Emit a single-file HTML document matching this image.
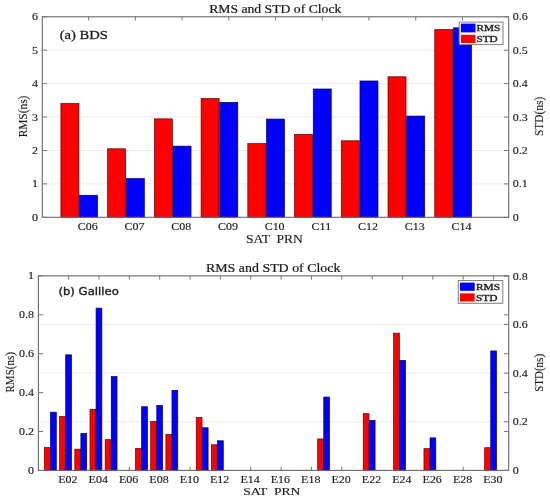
<!DOCTYPE html>
<html><head><meta charset="utf-8"><title>RMS and STD of Clock</title>
<style>
html,body{margin:0;padding:0;background:#fff;}
body{width:550px;height:501px;overflow:hidden;}
svg{display:block;}
text{font-family:"Liberation Serif",serif;fill:#1a1a1a;stroke:#1a1a1a;stroke-width:0.25px;}
.tk{font-size:10px;stroke-width:0.14px;}
.ti{font-size:11.5px;stroke-width:0.2px;}
.ti2{font-size:11.9px;stroke-width:0.2px;}
.xl{font-size:11.6px;stroke-width:0.12px;}
.xl2{font-size:11px;stroke-width:0.12px;}
.yl{font-size:11.4px;stroke-width:0.12px;}
.yl2{font-size:11px;stroke-width:0.12px;}
.pa{font-size:12.5px;}
.pb{font-size:10.8px;font-family:"DejaVu Sans","Liberation Sans",sans-serif;stroke-width:0.35px;}
.lg{font-size:9.2px;stroke-width:0.35px;}
</style></head><body>
<svg width="550" height="501" viewBox="0 0 550 501">
<rect width="550" height="501" fill="#fff"/>
<line x1="42.30" y1="183.88" x2="508.70" y2="183.88" stroke="#ebebeb" stroke-width="1"/>
<line x1="42.30" y1="150.47" x2="508.70" y2="150.47" stroke="#ebebeb" stroke-width="1"/>
<line x1="42.30" y1="117.05" x2="508.70" y2="117.05" stroke="#ebebeb" stroke-width="1"/>
<line x1="42.30" y1="83.63" x2="508.70" y2="83.63" stroke="#ebebeb" stroke-width="1"/>
<line x1="42.30" y1="50.22" x2="508.70" y2="50.22" stroke="#ebebeb" stroke-width="1"/>
<line x1="88.60" y1="217.30" x2="88.60" y2="213.60" stroke="#787878" stroke-width="1"/>
<line x1="135.33" y1="217.30" x2="135.33" y2="213.60" stroke="#787878" stroke-width="1"/>
<line x1="182.06" y1="217.30" x2="182.06" y2="213.60" stroke="#787878" stroke-width="1"/>
<line x1="228.79" y1="217.30" x2="228.79" y2="213.60" stroke="#787878" stroke-width="1"/>
<line x1="275.52" y1="217.30" x2="275.52" y2="213.60" stroke="#787878" stroke-width="1"/>
<line x1="322.25" y1="217.30" x2="322.25" y2="213.60" stroke="#787878" stroke-width="1"/>
<line x1="368.98" y1="217.30" x2="368.98" y2="213.60" stroke="#787878" stroke-width="1"/>
<line x1="415.71" y1="217.30" x2="415.71" y2="213.60" stroke="#787878" stroke-width="1"/>
<line x1="462.44" y1="217.30" x2="462.44" y2="213.60" stroke="#787878" stroke-width="1"/>
<rect x="60.91" y="103.53" width="17.99" height="113.77" fill="#ff0000" stroke="#5a0000" stroke-width="0.7"/>
<rect x="79.60" y="195.26" width="17.99" height="22.04" fill="#0000ff" stroke="#00005a" stroke-width="0.7"/>
<rect x="107.64" y="148.81" width="17.99" height="68.49" fill="#ff0000" stroke="#5a0000" stroke-width="0.7"/>
<rect x="126.33" y="178.55" width="17.99" height="38.75" fill="#0000ff" stroke="#00005a" stroke-width="0.7"/>
<rect x="154.37" y="118.87" width="17.99" height="98.43" fill="#ff0000" stroke="#5a0000" stroke-width="0.7"/>
<rect x="173.06" y="146.14" width="17.99" height="71.16" fill="#0000ff" stroke="#00005a" stroke-width="0.7"/>
<rect x="201.10" y="98.52" width="17.99" height="118.78" fill="#ff0000" stroke="#5a0000" stroke-width="0.7"/>
<rect x="219.79" y="102.36" width="17.99" height="114.94" fill="#0000ff" stroke="#00005a" stroke-width="0.7"/>
<rect x="247.83" y="143.63" width="17.99" height="73.67" fill="#ff0000" stroke="#5a0000" stroke-width="0.7"/>
<rect x="266.52" y="119.07" width="17.99" height="98.23" fill="#0000ff" stroke="#00005a" stroke-width="0.7"/>
<rect x="294.56" y="134.44" width="17.99" height="82.86" fill="#ff0000" stroke="#5a0000" stroke-width="0.7"/>
<rect x="313.25" y="89.00" width="17.99" height="128.30" fill="#0000ff" stroke="#00005a" stroke-width="0.7"/>
<rect x="341.29" y="140.79" width="17.99" height="76.51" fill="#ff0000" stroke="#5a0000" stroke-width="0.7"/>
<rect x="359.98" y="80.98" width="17.99" height="136.32" fill="#0000ff" stroke="#00005a" stroke-width="0.7"/>
<rect x="388.02" y="76.80" width="17.99" height="140.50" fill="#ff0000" stroke="#5a0000" stroke-width="0.7"/>
<rect x="406.71" y="116.06" width="17.99" height="101.24" fill="#0000ff" stroke="#00005a" stroke-width="0.7"/>
<rect x="434.75" y="29.51" width="17.99" height="187.79" fill="#ff0000" stroke="#5a0000" stroke-width="0.7"/>
<rect x="453.44" y="27.84" width="17.99" height="189.46" fill="#0000ff" stroke="#00005a" stroke-width="0.7"/>
<rect x="42.3" y="16.8" width="466.40" height="200.50" fill="none" stroke="#686868" stroke-width="1.1"/>
<line x1="88.60" y1="16.80" x2="88.60" y2="20.50" stroke="#787878" stroke-width="1"/>
<text transform="translate(87.70,229.60) scale(1.2,1)" class="tk" text-anchor="middle">C06</text>
<line x1="135.33" y1="16.80" x2="135.33" y2="20.50" stroke="#787878" stroke-width="1"/>
<text transform="translate(134.43,229.60) scale(1.2,1)" class="tk" text-anchor="middle">C07</text>
<line x1="182.06" y1="16.80" x2="182.06" y2="20.50" stroke="#787878" stroke-width="1"/>
<text transform="translate(181.16,229.60) scale(1.2,1)" class="tk" text-anchor="middle">C08</text>
<line x1="228.79" y1="16.80" x2="228.79" y2="20.50" stroke="#787878" stroke-width="1"/>
<text transform="translate(227.89,229.60) scale(1.2,1)" class="tk" text-anchor="middle">C09</text>
<line x1="275.52" y1="16.80" x2="275.52" y2="20.50" stroke="#787878" stroke-width="1"/>
<text transform="translate(274.62,229.60) scale(1.2,1)" class="tk" text-anchor="middle">C10</text>
<line x1="322.25" y1="16.80" x2="322.25" y2="20.50" stroke="#787878" stroke-width="1"/>
<text transform="translate(321.35,229.60) scale(1.2,1)" class="tk" text-anchor="middle">C11</text>
<line x1="368.98" y1="16.80" x2="368.98" y2="20.50" stroke="#787878" stroke-width="1"/>
<text transform="translate(368.08,229.60) scale(1.2,1)" class="tk" text-anchor="middle">C12</text>
<line x1="415.71" y1="16.80" x2="415.71" y2="20.50" stroke="#787878" stroke-width="1"/>
<text transform="translate(414.81,229.60) scale(1.2,1)" class="tk" text-anchor="middle">C13</text>
<line x1="462.44" y1="16.80" x2="462.44" y2="20.50" stroke="#787878" stroke-width="1"/>
<text transform="translate(461.54,229.60) scale(1.2,1)" class="tk" text-anchor="middle">C14</text>
<line x1="42.30" y1="217.30" x2="47.00" y2="217.30" stroke="#787878" stroke-width="1"/>
<line x1="508.70" y1="217.30" x2="504.00" y2="217.30" stroke="#787878" stroke-width="1"/>
<text transform="translate(38.00,220.90) scale(1.2,1)" class="tk" text-anchor="end">0</text>
<text transform="translate(512.70,220.90) scale(1.2,1)" class="tk">0</text>
<line x1="42.30" y1="183.88" x2="47.00" y2="183.88" stroke="#787878" stroke-width="1"/>
<line x1="508.70" y1="183.88" x2="504.00" y2="183.88" stroke="#787878" stroke-width="1"/>
<text transform="translate(38.00,187.48) scale(1.2,1)" class="tk" text-anchor="end">1</text>
<text transform="translate(512.70,187.48) scale(1.2,1)" class="tk">0.1</text>
<line x1="42.30" y1="150.47" x2="47.00" y2="150.47" stroke="#787878" stroke-width="1"/>
<line x1="508.70" y1="150.47" x2="504.00" y2="150.47" stroke="#787878" stroke-width="1"/>
<text transform="translate(38.00,154.07) scale(1.2,1)" class="tk" text-anchor="end">2</text>
<text transform="translate(512.70,154.07) scale(1.2,1)" class="tk">0.2</text>
<line x1="42.30" y1="117.05" x2="47.00" y2="117.05" stroke="#787878" stroke-width="1"/>
<line x1="508.70" y1="117.05" x2="504.00" y2="117.05" stroke="#787878" stroke-width="1"/>
<text transform="translate(38.00,120.65) scale(1.2,1)" class="tk" text-anchor="end">3</text>
<text transform="translate(512.70,120.65) scale(1.2,1)" class="tk">0.3</text>
<line x1="42.30" y1="83.63" x2="47.00" y2="83.63" stroke="#787878" stroke-width="1"/>
<line x1="508.70" y1="83.63" x2="504.00" y2="83.63" stroke="#787878" stroke-width="1"/>
<text transform="translate(38.00,87.23) scale(1.2,1)" class="tk" text-anchor="end">4</text>
<text transform="translate(512.70,87.23) scale(1.2,1)" class="tk">0.4</text>
<line x1="42.30" y1="50.22" x2="47.00" y2="50.22" stroke="#787878" stroke-width="1"/>
<line x1="508.70" y1="50.22" x2="504.00" y2="50.22" stroke="#787878" stroke-width="1"/>
<text transform="translate(38.00,53.82) scale(1.2,1)" class="tk" text-anchor="end">5</text>
<text transform="translate(512.70,53.82) scale(1.2,1)" class="tk">0.5</text>
<line x1="42.30" y1="16.80" x2="47.00" y2="16.80" stroke="#787878" stroke-width="1"/>
<line x1="508.70" y1="16.80" x2="504.00" y2="16.80" stroke="#787878" stroke-width="1"/>
<text transform="translate(38.00,20.40) scale(1.2,1)" class="tk" text-anchor="end">6</text>
<text transform="translate(512.70,20.40) scale(1.2,1)" class="tk">0.6</text>
<text transform="translate(275.20,12.60) scale(1.19,1)" class="ti" text-anchor="middle">RMS and STD of Clock</text>
<text transform="translate(274.40,243.20) scale(1.17,1)" class="xl" text-anchor="middle" xml:space="preserve">SAT  PRN</text>
<text transform="translate(26.50,116.50) scale(1.17,1) rotate(-90)" class="yl" text-anchor="middle">RMS(ns)</text>
<text transform="translate(543.30,116.40) scale(1.17,1) rotate(-90)" class="yl" text-anchor="middle">STD(ns)</text>
<text transform="translate(59.70,38.70) scale(1.17,1)" class="pa">(a) BDS</text>
<rect x="459.2" y="22.1" width="43.8" height="22.5" fill="#fcfcfc" stroke="#808080" stroke-width="1"/>
<rect x="460.9" y="23.6" width="14.6" height="8.8" fill="#0000ff"/>
<rect x="460.9" y="34.8" width="14.6" height="8.2" fill="#ff0000"/>
<text transform="translate(476.50,30.70) scale(1.22,1)" class="lg">RMS</text>
<text transform="translate(476.50,41.60) scale(1.22,1)" class="lg">STD</text>
<line x1="38.40" y1="421.77" x2="508.70" y2="421.77" stroke="#ebebeb" stroke-width="1"/>
<line x1="38.40" y1="373.15" x2="508.70" y2="373.15" stroke="#ebebeb" stroke-width="1"/>
<line x1="38.40" y1="324.52" x2="508.70" y2="324.52" stroke="#ebebeb" stroke-width="1"/>
<line x1="68.60" y1="470.40" x2="68.60" y2="466.70" stroke="#787878" stroke-width="1"/>
<line x1="98.96" y1="470.40" x2="98.96" y2="466.70" stroke="#787878" stroke-width="1"/>
<line x1="129.32" y1="470.40" x2="129.32" y2="466.70" stroke="#787878" stroke-width="1"/>
<line x1="159.68" y1="470.40" x2="159.68" y2="466.70" stroke="#787878" stroke-width="1"/>
<line x1="190.04" y1="470.40" x2="190.04" y2="466.70" stroke="#787878" stroke-width="1"/>
<line x1="220.40" y1="470.40" x2="220.40" y2="466.70" stroke="#787878" stroke-width="1"/>
<line x1="250.76" y1="470.40" x2="250.76" y2="466.70" stroke="#787878" stroke-width="1"/>
<line x1="281.12" y1="470.40" x2="281.12" y2="466.70" stroke="#787878" stroke-width="1"/>
<line x1="311.48" y1="470.40" x2="311.48" y2="466.70" stroke="#787878" stroke-width="1"/>
<line x1="341.84" y1="470.40" x2="341.84" y2="466.70" stroke="#787878" stroke-width="1"/>
<line x1="372.20" y1="470.40" x2="372.20" y2="466.70" stroke="#787878" stroke-width="1"/>
<line x1="402.56" y1="470.40" x2="402.56" y2="466.70" stroke="#787878" stroke-width="1"/>
<line x1="432.92" y1="470.40" x2="432.92" y2="466.70" stroke="#787878" stroke-width="1"/>
<line x1="463.28" y1="470.40" x2="463.28" y2="466.70" stroke="#787878" stroke-width="1"/>
<line x1="493.64" y1="470.40" x2="493.64" y2="466.70" stroke="#787878" stroke-width="1"/>
<rect x="44.46" y="447.45" width="5.77" height="22.95" fill="#ff0000" stroke="#5a0000" stroke-width="0.7"/>
<rect x="50.53" y="412.20" width="5.77" height="58.20" fill="#0000ff" stroke="#00005a" stroke-width="0.7"/>
<rect x="59.64" y="416.58" width="5.77" height="53.82" fill="#ff0000" stroke="#5a0000" stroke-width="0.7"/>
<rect x="65.71" y="354.82" width="5.77" height="115.58" fill="#0000ff" stroke="#00005a" stroke-width="0.7"/>
<rect x="74.82" y="449.15" width="5.77" height="21.25" fill="#ff0000" stroke="#5a0000" stroke-width="0.7"/>
<rect x="80.89" y="433.59" width="5.77" height="36.81" fill="#0000ff" stroke="#00005a" stroke-width="0.7"/>
<rect x="90.00" y="409.28" width="5.77" height="61.12" fill="#ff0000" stroke="#5a0000" stroke-width="0.7"/>
<rect x="96.07" y="308.14" width="5.77" height="162.26" fill="#0000ff" stroke="#00005a" stroke-width="0.7"/>
<rect x="105.18" y="439.67" width="5.77" height="30.73" fill="#ff0000" stroke="#5a0000" stroke-width="0.7"/>
<rect x="111.25" y="376.61" width="5.77" height="93.79" fill="#0000ff" stroke="#00005a" stroke-width="0.7"/>
<rect x="135.54" y="448.43" width="5.77" height="21.97" fill="#ff0000" stroke="#5a0000" stroke-width="0.7"/>
<rect x="141.61" y="406.75" width="5.77" height="63.65" fill="#0000ff" stroke="#00005a" stroke-width="0.7"/>
<rect x="150.72" y="421.44" width="5.77" height="48.96" fill="#ff0000" stroke="#5a0000" stroke-width="0.7"/>
<rect x="156.79" y="405.39" width="5.77" height="65.01" fill="#0000ff" stroke="#00005a" stroke-width="0.7"/>
<rect x="165.90" y="434.32" width="5.77" height="36.08" fill="#ff0000" stroke="#5a0000" stroke-width="0.7"/>
<rect x="171.97" y="390.42" width="5.77" height="79.98" fill="#0000ff" stroke="#00005a" stroke-width="0.7"/>
<rect x="196.26" y="417.55" width="5.77" height="52.85" fill="#ff0000" stroke="#5a0000" stroke-width="0.7"/>
<rect x="202.33" y="427.76" width="5.77" height="42.64" fill="#0000ff" stroke="#00005a" stroke-width="0.7"/>
<rect x="211.44" y="444.78" width="5.77" height="25.62" fill="#ff0000" stroke="#5a0000" stroke-width="0.7"/>
<rect x="217.51" y="440.79" width="5.77" height="29.61" fill="#0000ff" stroke="#00005a" stroke-width="0.7"/>
<rect x="317.70" y="438.94" width="5.77" height="31.46" fill="#ff0000" stroke="#5a0000" stroke-width="0.7"/>
<rect x="323.77" y="397.03" width="5.77" height="73.37" fill="#0000ff" stroke="#00005a" stroke-width="0.7"/>
<rect x="363.24" y="413.66" width="5.77" height="56.74" fill="#ff0000" stroke="#5a0000" stroke-width="0.7"/>
<rect x="369.31" y="420.37" width="5.77" height="50.03" fill="#0000ff" stroke="#00005a" stroke-width="0.7"/>
<rect x="393.60" y="333.18" width="5.77" height="137.22" fill="#ff0000" stroke="#5a0000" stroke-width="0.7"/>
<rect x="399.67" y="360.46" width="5.77" height="109.94" fill="#0000ff" stroke="#00005a" stroke-width="0.7"/>
<rect x="423.96" y="448.67" width="5.77" height="21.73" fill="#ff0000" stroke="#5a0000" stroke-width="0.7"/>
<rect x="430.03" y="437.87" width="5.77" height="32.53" fill="#0000ff" stroke="#00005a" stroke-width="0.7"/>
<rect x="484.68" y="447.70" width="5.77" height="22.70" fill="#ff0000" stroke="#5a0000" stroke-width="0.7"/>
<rect x="490.75" y="350.93" width="5.77" height="119.47" fill="#0000ff" stroke="#00005a" stroke-width="0.7"/>
<rect x="38.4" y="275.9" width="470.30" height="194.50" fill="none" stroke="#686868" stroke-width="1.1"/>
<line x1="68.60" y1="275.90" x2="68.60" y2="279.60" stroke="#787878" stroke-width="1"/>
<text transform="translate(67.90,482.90) scale(1.2,1)" class="tk" text-anchor="middle">E02</text>
<line x1="98.96" y1="275.90" x2="98.96" y2="279.60" stroke="#787878" stroke-width="1"/>
<text transform="translate(98.26,482.90) scale(1.2,1)" class="tk" text-anchor="middle">E04</text>
<line x1="129.32" y1="275.90" x2="129.32" y2="279.60" stroke="#787878" stroke-width="1"/>
<text transform="translate(128.62,482.90) scale(1.2,1)" class="tk" text-anchor="middle">E06</text>
<line x1="159.68" y1="275.90" x2="159.68" y2="279.60" stroke="#787878" stroke-width="1"/>
<text transform="translate(158.98,482.90) scale(1.2,1)" class="tk" text-anchor="middle">E08</text>
<line x1="190.04" y1="275.90" x2="190.04" y2="279.60" stroke="#787878" stroke-width="1"/>
<text transform="translate(189.34,482.90) scale(1.2,1)" class="tk" text-anchor="middle">E10</text>
<line x1="220.40" y1="275.90" x2="220.40" y2="279.60" stroke="#787878" stroke-width="1"/>
<text transform="translate(219.70,482.90) scale(1.2,1)" class="tk" text-anchor="middle">E12</text>
<line x1="250.76" y1="275.90" x2="250.76" y2="279.60" stroke="#787878" stroke-width="1"/>
<text transform="translate(250.06,482.90) scale(1.2,1)" class="tk" text-anchor="middle">E14</text>
<line x1="281.12" y1="275.90" x2="281.12" y2="279.60" stroke="#787878" stroke-width="1"/>
<text transform="translate(280.42,482.90) scale(1.2,1)" class="tk" text-anchor="middle">E16</text>
<line x1="311.48" y1="275.90" x2="311.48" y2="279.60" stroke="#787878" stroke-width="1"/>
<text transform="translate(310.78,482.90) scale(1.2,1)" class="tk" text-anchor="middle">E18</text>
<line x1="341.84" y1="275.90" x2="341.84" y2="279.60" stroke="#787878" stroke-width="1"/>
<text transform="translate(341.14,482.90) scale(1.2,1)" class="tk" text-anchor="middle">E20</text>
<line x1="372.20" y1="275.90" x2="372.20" y2="279.60" stroke="#787878" stroke-width="1"/>
<text transform="translate(371.50,482.90) scale(1.2,1)" class="tk" text-anchor="middle">E22</text>
<line x1="402.56" y1="275.90" x2="402.56" y2="279.60" stroke="#787878" stroke-width="1"/>
<text transform="translate(401.86,482.90) scale(1.2,1)" class="tk" text-anchor="middle">E24</text>
<line x1="432.92" y1="275.90" x2="432.92" y2="279.60" stroke="#787878" stroke-width="1"/>
<text transform="translate(432.22,482.90) scale(1.2,1)" class="tk" text-anchor="middle">E26</text>
<line x1="463.28" y1="275.90" x2="463.28" y2="279.60" stroke="#787878" stroke-width="1"/>
<text transform="translate(462.58,482.90) scale(1.2,1)" class="tk" text-anchor="middle">E28</text>
<line x1="493.64" y1="275.90" x2="493.64" y2="279.60" stroke="#787878" stroke-width="1"/>
<text transform="translate(492.94,482.90) scale(1.2,1)" class="tk" text-anchor="middle">E30</text>
<line x1="38.40" y1="470.40" x2="43.10" y2="470.40" stroke="#787878" stroke-width="1"/>
<line x1="508.70" y1="470.40" x2="504.00" y2="470.40" stroke="#787878" stroke-width="1"/>
<text transform="translate(34.10,473.90) scale(1.2,1)" class="tk" text-anchor="end">0</text>
<line x1="38.40" y1="431.50" x2="43.10" y2="431.50" stroke="#787878" stroke-width="1"/>
<line x1="508.70" y1="431.50" x2="504.00" y2="431.50" stroke="#787878" stroke-width="1"/>
<text transform="translate(34.10,435.00) scale(1.2,1)" class="tk" text-anchor="end">0.2</text>
<line x1="38.40" y1="392.60" x2="43.10" y2="392.60" stroke="#787878" stroke-width="1"/>
<line x1="508.70" y1="392.60" x2="504.00" y2="392.60" stroke="#787878" stroke-width="1"/>
<text transform="translate(34.10,396.10) scale(1.2,1)" class="tk" text-anchor="end">0.4</text>
<line x1="38.40" y1="353.70" x2="43.10" y2="353.70" stroke="#787878" stroke-width="1"/>
<line x1="508.70" y1="353.70" x2="504.00" y2="353.70" stroke="#787878" stroke-width="1"/>
<text transform="translate(34.10,357.20) scale(1.2,1)" class="tk" text-anchor="end">0.6</text>
<line x1="38.40" y1="314.80" x2="43.10" y2="314.80" stroke="#787878" stroke-width="1"/>
<line x1="508.70" y1="314.80" x2="504.00" y2="314.80" stroke="#787878" stroke-width="1"/>
<text transform="translate(34.10,318.30) scale(1.2,1)" class="tk" text-anchor="end">0.8</text>
<line x1="38.40" y1="275.90" x2="43.10" y2="275.90" stroke="#787878" stroke-width="1"/>
<line x1="508.70" y1="275.90" x2="504.00" y2="275.90" stroke="#787878" stroke-width="1"/>
<text transform="translate(34.10,279.40) scale(1.2,1)" class="tk" text-anchor="end">1</text>
<line x1="508.70" y1="470.40" x2="504.00" y2="470.40" stroke="#787878" stroke-width="1"/>
<text transform="translate(512.70,474.00) scale(1.2,1)" class="tk">0</text>
<line x1="508.70" y1="421.77" x2="504.00" y2="421.77" stroke="#787878" stroke-width="1"/>
<text transform="translate(512.70,425.38) scale(1.2,1)" class="tk">0.2</text>
<line x1="508.70" y1="373.15" x2="504.00" y2="373.15" stroke="#787878" stroke-width="1"/>
<text transform="translate(512.70,376.75) scale(1.2,1)" class="tk">0.4</text>
<line x1="508.70" y1="324.52" x2="504.00" y2="324.52" stroke="#787878" stroke-width="1"/>
<text transform="translate(512.70,328.12) scale(1.2,1)" class="tk">0.6</text>
<line x1="508.70" y1="275.90" x2="504.00" y2="275.90" stroke="#787878" stroke-width="1"/>
<text transform="translate(512.70,279.50) scale(1.2,1)" class="tk">0.8</text>
<text transform="translate(273.20,271.90) scale(1.17,1)" class="ti2" text-anchor="middle">RMS and STD of Clock</text>
<text transform="translate(271.80,495.10) scale(1.234,1)" class="xl2" text-anchor="middle" xml:space="preserve">SAT  PRN</text>
<text transform="translate(14.00,372.30) scale(1.17,1) rotate(-90)" class="yl2" text-anchor="middle">RMS(ns)</text>
<text transform="translate(542.80,372.90) scale(1.17,1) rotate(-90)" class="yl2" text-anchor="middle">STD(ns)</text>
<text transform="translate(58.40,294.70) scale(1.08,1)" class="pb">(b) Galileo</text>
<rect x="458.3" y="280.5" width="44.5" height="22.8" fill="#fcfcfc" stroke="#808080" stroke-width="1"/>
<rect x="460" y="282.6" width="14.7" height="8.2" fill="#0000ff"/>
<rect x="460" y="293.4" width="14.7" height="8.1" fill="#ff0000"/>
<text transform="translate(476.00,289.80) scale(1.24,1)" class="lg">RMS</text>
<text transform="translate(476.00,300.70) scale(1.24,1)" class="lg">STD</text>
</svg>
</body></html>
